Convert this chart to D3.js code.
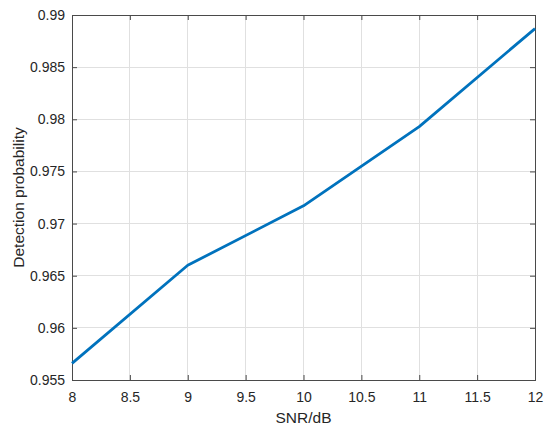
<!DOCTYPE html>
<html>
<meta charset="utf-8">
<style>
  body { margin: 0; background: #fff; }
  text { font-family: "Liberation Sans", Arial, sans-serif; fill: #262626; }
</style>
<svg width="550" height="434"></svg>
<script src="https://d3js.org/d3.v7.min.js"></script>
<script>
  // data
  var snr = [8, 9, 10, 11, 12];
  var detection = [0.9566, 0.9660, 0.9717, 0.9793, 0.9887];
  var xTicks = [8, 8.5, 9, 9.5, 10, 10.5, 11, 11.5, 12];
  var yTicks = [0.955, 0.96, 0.965, 0.97, 0.975, 0.98, 0.985, 0.99];

  var svg = d3.select("svg"),
    margin = { top: 15, right: 15, bottom: 54, left: 72 },
    width = +svg.attr("width") - margin.left - margin.right,
    height = +svg.attr("height") - margin.top - margin.bottom,
    g = svg.append("g").attr("transform", "translate(" + margin.left + "," + margin.top + ")");

  var x = d3.scaleLinear().domain([8, 12]).range([0, width]);
  var y = d3.scaleLinear().domain([0.955, 0.99]).range([height, 0]);

  // grid
  g.append("g").selectAll("line").data(xTicks).enter().append("line")
    .attr("x1", function (d) { return x(d); }).attr("x2", function (d) { return x(d); })
    .attr("y1", 0).attr("y2", height)
    .attr("stroke", "#e0e0e0").attr("stroke-width", 1).attr("shape-rendering", "crispEdges");
  g.append("g").selectAll("line").data(yTicks).enter().append("line")
    .attr("y1", function (d) { return y(d); }).attr("y2", function (d) { return y(d); })
    .attr("x1", 0).attr("x2", width)
    .attr("stroke", "#e0e0e0").attr("stroke-width", 1).attr("shape-rendering", "crispEdges");

  // axes, ticks pointing inward
  function styleAxis(sel) {
    sel.select(".domain").remove();
    sel.selectAll("line").attr("stroke", "#4a4a4a");
    sel.selectAll("text").attr("font-size", 14).attr("fill", "#262626")
      .attr("font-family", "'Liberation Sans', Arial, sans-serif");
  }
  g.append("g").attr("transform", "translate(0," + height + ")")
    .call(d3.axisBottom(x).tickValues(xTicks).tickFormat(d3.format("")).tickSizeInner(-5).tickSizeOuter(0).tickPadding(12))
    .call(styleAxis);
  g.append("g")
    .call(d3.axisLeft(y).tickValues(yTicks).tickFormat(d3.format("")).tickSizeInner(-5).tickSizeOuter(0).tickPadding(7))
    .call(styleAxis);
  g.append("g")
    .call(d3.axisTop(x).tickValues(xTicks).tickFormat("").tickSizeInner(-5).tickSizeOuter(0))
    .call(styleAxis);
  g.append("g").attr("transform", "translate(" + width + ",0)")
    .call(d3.axisRight(y).tickValues(yTicks).tickFormat("").tickSizeInner(-5).tickSizeOuter(0))
    .call(styleAxis);

  // box
  g.append("rect").attr("x", 0).attr("y", 0).attr("width", width).attr("height", height)
    .attr("fill", "none").attr("stroke", "#4a4a4a").attr("stroke-width", 1).attr("shape-rendering", "crispEdges");

  // line
  var line = d3.line()
    .x(function (d, i) { return x(snr[i]); })
    .y(function (d) { return y(d); });
  g.append("path").datum(detection)
    .attr("d", line)
    .attr("fill", "none")
    .attr("stroke", "#0072bd")
    .attr("stroke-width", 2.8)
    .attr("stroke-linejoin", "round");

  // axis labels
  svg.append("text")
    .attr("x", margin.left + width / 2).attr("y", 423)
    .attr("text-anchor", "middle").attr("font-size", 15.5)
    .text("SNR/dB");
  svg.append("text")
    .attr("transform", "translate(24," + (margin.top + height / 2) + ") rotate(-90)")
    .attr("text-anchor", "middle").attr("font-size", 15.5)
    .text("Detection probability");
</script>
</html>
